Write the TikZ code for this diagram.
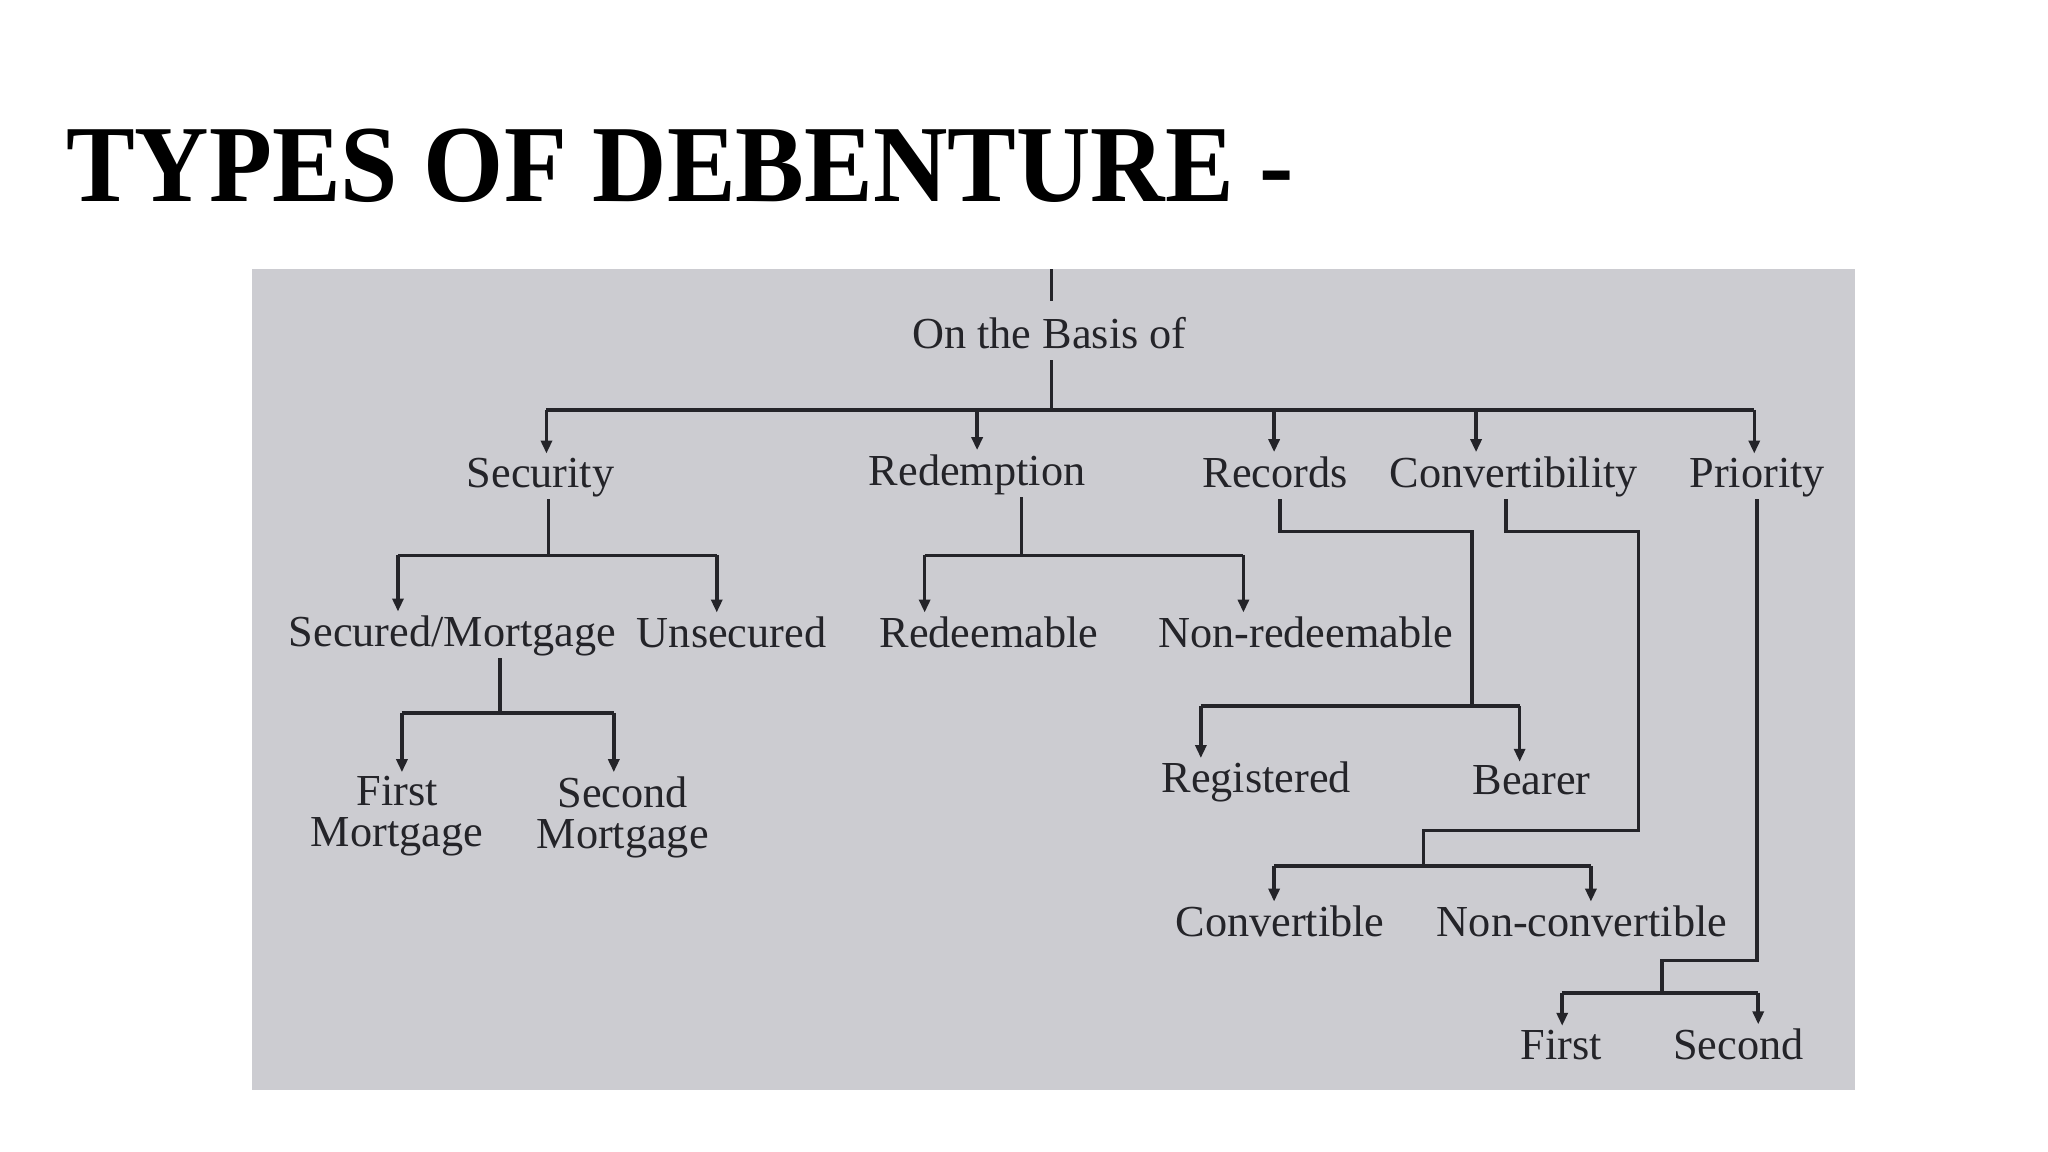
\documentclass[tikz,border=0pt]{standalone}
\usepackage{fontspec}
\setmainfont{Liberation Serif}
\usetikzlibrary{arrows.meta}
\definecolor{panel}{RGB}{204,204,209}
\definecolor{ink}{RGB}{36,36,41}
\begin{document}
\begin{tikzpicture}[x=0.0099cm,y=-0.0099cm,
  lbl/.style={font=\fontsize{12.6}{11.7}\selectfont, text=ink, inner sep=1pt, text depth=0.22em, anchor=base},
  wire/.style={draw=ink, line width=1pt, line join=miter},
  arr/.style={wire, -{Triangle[length=1.3mm,width=1.1mm]}}]
\useasboundingbox (0,0) rectangle (2068.7,1163.6);
\fill[white] (0,0) rectangle (2068.7,1163.6);
\node[anchor=base west, inner sep=0pt, font=\fontsize{31.2}{31.2}\selectfont\bfseries] (title) at (66,204) {\scalebox{0.94}[1]{TYPES OF DEBENTURE -}};
\fill[panel] (255,272) rectangle (1874,1101);

% labels
\node[lbl] (basis) at (1060,352) {On the Basis of};
\node[lbl] (security) at (546,492) {Security};
\node[lbl] (redemption) at (987,490) {Redemption};
\node[lbl] (records) at (1288,492) {Records};
\node[lbl] (convert) at (1529,492) {Convertibility};
\node[lbl] (priority) at (1775,492) {Priority};
\node[lbl] (secured) at (457,653) {Secured/Mortgage};
\node[lbl] (unsecured) at (739,654) {Unsecured};
\node[lbl] (redeem) at (999,654) {Redeemable};
\node[lbl] (nonredeem) at (1319,654) {Non-redeemable};
\node[lbl, align=center, anchor=north] (firstm) at (401,780) {First\\Mortgage};
\node[lbl, align=center, anchor=north] (secondm) at (629,780) {Second\\Mortgage};
\node[lbl] (registered) at (1269,801) {Registered};
\node[lbl] (bearer) at (1547,803) {Bearer};
\node[lbl] (convertible) at (1293,946) {Convertible};
\node[lbl] (nonconv) at (1598,946) {Non-convertible};
\node[lbl] (first) at (1577,1070) {First};
\node[lbl] (second) at (1756,1070) {Second};

% top
\coordinate (t0) at (1062,272);
\coordinate (b0) at (1062,414);
\coordinate (bl) at (552,414);
\coordinate (br) at (1772,414);
\coordinate (b2) at (987,414);
\coordinate (b3) at (1287,414);
\coordinate (b4) at (1491,414);
\draw[wire, shorten >=1.2mm] (t0) -- (t0 |- basis.north);
\draw[wire] (b0 |- basis.south) -- (b0);
\draw[wire] (bl) -- (br);
\draw[arr] (bl) -- (bl |- security.north);
\draw[arr] (b2) -- (b2 |- redemption.north);
\draw[arr] (b3) -- (b3 |- records.north);
\draw[arr] (b4) -- (b4 |- convert.north);
\draw[arr] (br) -- (br |- priority.north);

% security
\coordinate (sj) at (554,561);
\coordinate (sl) at (402,561);
\coordinate (sr) at (724,561);
\draw[wire] (sj |- security.south) -- (sj);
\draw[wire] (sl) -- (sr);
\draw[arr] (sl) -- (sl |- secured.north);
\draw[arr] (sr) -- (sr |- unsecured.north);

% redemption
\coordinate (rj) at (1032,561);
\coordinate (rl) at (934,561);
\coordinate (rr) at (1256,561);
\draw[wire] (rj |- redemption.south) -- (rj);
\draw[wire] (rl) -- (rr);
\draw[arr] (rl) -- (rl |- redeem.north);
\draw[arr] (rr) -- (rr |- nonredeem.north);

% secured/mortgage
\coordinate (mj) at (505,720);
\coordinate (ml) at (406,720);
\coordinate (mr) at (620,720);
\draw[wire] (mj |- secured.south) -- (mj);
\draw[wire] (ml) -- (mr);
\draw[arr] (ml) -- (ml |- firstm.north);
\draw[arr] (mr) -- (mr |- secondm.north);

% records
\coordinate (ca) at (1293,537);
\coordinate (cb) at (1487,537);
\coordinate (cj) at (1487,713);
\coordinate (cl) at (1213,713);
\coordinate (cr) at (1535,713);
\draw[wire] (ca |- records.south) -- (ca) -- (cb) -- (cj);
\draw[wire] (cl) -- (cr);
\draw[arr] (cl) -- (cl |- registered.north);
\draw[arr] (cr) -- (cr |- bearer.north);

% convertibility
\coordinate (va) at (1521,537);
\coordinate (vb) at (1655,537);
\coordinate (vc) at (1655,839);
\coordinate (vd) at (1438,839);
\coordinate (vj) at (1438,875);
\coordinate (vl) at (1287,875);
\coordinate (vr) at (1607,875);
\draw[wire] (va |- convert.south) -- (va) -- (vb) -- (vc) -- (vd) -- (vj);
\draw[wire] (vl) -- (vr);
\draw[arr] (vl) -- (vl |- convertible.north);
\draw[arr] (vr) -- (vr |- nonconv.north);

% priority
\coordinate (pa) at (1775,970);
\coordinate (pb) at (1679,970);
\coordinate (pj) at (1679,1003);
\coordinate (pl) at (1578,1003);
\coordinate (pr) at (1776,1003);
\draw[wire] (pa |- priority.south) -- (pa) -- (pb) -- (pj);
\draw[wire] (pl) -- (pr);
\draw[arr] (pl) -- (pl |- first.north);
\draw[arr] (pr) -- (pr |- second.north);
\end{tikzpicture}
\end{document}
